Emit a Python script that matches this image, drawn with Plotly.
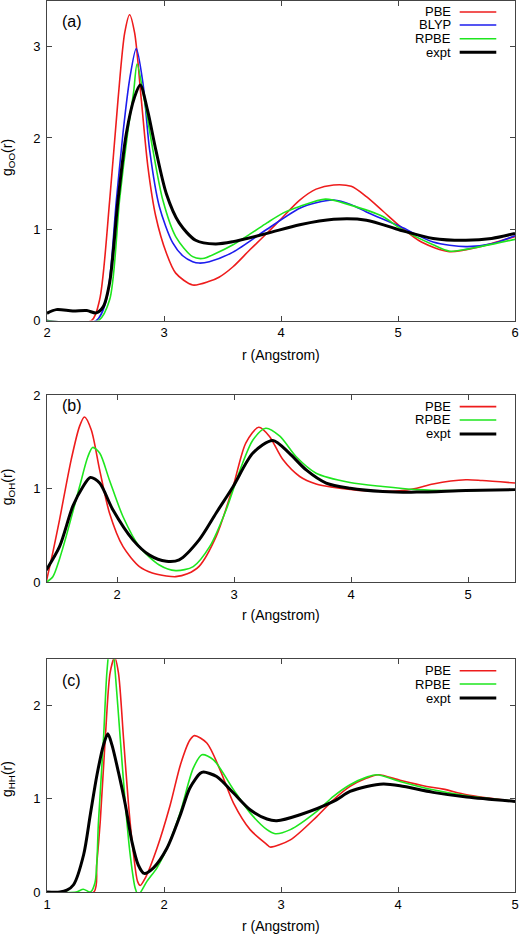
import plotly.graph_objects as go

# ---- panel (a): g_OO(r) ----
oo_pbe_r = [2.0, 2.38, 2.45, 2.536, 2.607, 2.664, 2.706, 2.749, 2.806, 2.862, 2.93, 3.02, 3.10, 3.245,
            3.387, 3.47, 3.59, 3.73, 3.88, 4.02, 4.16, 4.30, 4.45, 4.60, 4.73, 4.87, 5.02, 5.20, 5.44, 5.70, 6.0]
oo_pbe_g = [0, 0, 0.23, 1.32, 2.42, 3.15, 3.35, 3.15, 2.42, 1.69, 1.14, 0.74, 0.52, 0.39,
            0.43, 0.475, 0.59, 0.77, 0.956, 1.14, 1.32, 1.44, 1.485, 1.47, 1.357, 1.20, 1.03, 0.86, 0.755, 0.81, 0.92]

oo_blyp_r = [2.0, 2.42, 2.508, 2.593, 2.65, 2.706, 2.763, 2.82, 2.877, 2.96, 3.075, 3.16, 3.245, 3.30,
             3.387, 3.59, 3.88, 4.16, 4.30, 4.45, 4.60, 4.73, 5.02, 5.30, 5.58, 5.80, 6.0]
oo_blyp_g = [0, 0, 0.23, 1.32, 2.06, 2.64, 2.98, 2.6, 1.87, 1.25, 0.85, 0.71, 0.645, 0.63,
             0.645, 0.75, 1.0, 1.23, 1.29, 1.32, 1.27, 1.19, 1.03, 0.86, 0.81, 0.84, 0.93]

oo_rpbe_r = [2.0, 2.44, 2.536, 2.62, 2.69, 2.74, 2.77, 2.834, 2.905, 2.99, 3.10, 3.245, 3.33, 3.45,
             3.59, 3.75, 3.88, 4.02, 4.16, 4.38, 4.58, 4.87, 5.02, 5.30, 5.44, 5.58, 6.0]
oo_rpbe_g = [0, 0, 0.23, 1.32, 2.06, 2.5, 2.81, 2.4, 1.87, 1.32, 0.92, 0.70, 0.68, 0.74,
             0.83, 0.96, 1.07, 1.18, 1.25, 1.33, 1.27, 1.14, 1.01, 0.83, 0.76, 0.78, 0.89]

oo_expt_r = [2.0, 2.08, 2.22, 2.34, 2.42, 2.48, 2.536, 2.607, 2.678, 2.749, 2.797, 2.86, 2.93, 3.02,
             3.13, 3.27, 3.44, 3.59, 3.88, 4.16, 4.45, 4.73, 5.02, 5.30, 5.58, 5.80, 6.0]
oo_expt_g = [0.08, 0.12, 0.105, 0.11, 0.085, 0.15, 0.42, 1.32, 2.05, 2.45, 2.58, 2.30, 1.87, 1.39,
             1.07, 0.88, 0.84, 0.865, 0.955, 1.05, 1.11, 1.10, 0.99, 0.90, 0.88, 0.90, 0.955]

# ---- panel (b): g_OH(r) ----
oh_pbe_r = [1.393, 1.45, 1.507, 1.607, 1.678, 1.72, 1.778, 1.85, 1.934, 2.05, 2.19, 2.30, 2.42, 2.5,
            2.60, 2.70, 2.846, 2.99, 3.10, 3.21, 3.30, 3.416, 3.56, 3.70, 3.84, 4.13, 4.41, 4.56,
            4.70, 4.98, 5.12, 5.40]
oh_pbe_g = [0, 0.32, 0.667, 1.31, 1.665, 1.765, 1.63, 1.20, 0.74, 0.38, 0.168, 0.10, 0.068, 0.06,
            0.09, 0.17, 0.49, 1.02, 1.49, 1.655, 1.56, 1.31, 1.13, 1.05, 1.016, 0.977, 0.977, 1.005,
            1.05, 1.095, 1.087, 1.06]

oh_rpbe_r = [1.393, 1.45, 1.507, 1.564, 1.678, 1.749, 1.79, 1.85, 1.934, 2.05, 2.19, 2.36, 2.50,
             2.65, 2.79, 2.93, 3.05, 3.16, 3.27, 3.39, 3.53, 3.70, 3.99, 4.27, 4.56, 4.84, 5.40]
oh_rpbe_g = [0, 0.06, 0.25, 0.49, 1.02, 1.34, 1.44, 1.38, 1.09, 0.70, 0.38, 0.185, 0.125,
             0.168, 0.38, 0.77, 1.20, 1.52, 1.645, 1.56, 1.34, 1.165, 1.066, 1.023, 0.99, 0.98, 0.99]

oh_expt_r = [1.393, 1.507, 1.62, 1.707, 1.77, 1.85, 1.963, 2.134, 2.276, 2.42, 2.53, 2.70, 2.846,
             2.99, 3.16, 3.33, 3.47, 3.615, 3.786, 3.99, 4.27, 4.56, 4.98, 5.40]
oh_expt_g = [0.13, 0.38, 0.81, 1.02, 1.12, 1.06, 0.774, 0.453, 0.29, 0.225, 0.24, 0.453, 0.74,
             1.02, 1.38, 1.515, 1.38, 1.20, 1.06, 1.005, 0.97, 0.963, 0.98, 0.99]

# ---- panel (c): g_HH(r) ----
hh_pbe_r = [1.0, 1.40, 1.425, 1.455, 1.498, 1.54, 1.578, 1.61, 1.654, 1.697, 1.74, 1.774, 1.797, 1.84,
            1.94, 2.053, 2.14, 2.22, 2.26, 2.366, 2.48, 2.594, 2.736, 2.88, 2.907, 3.08, 3.306,
            3.448, 3.59, 3.733, 3.832, 4.017, 4.245, 4.387, 4.587, 5.0]
hh_pbe_g = [0, 0, 0.3, 0.757, 1.65, 2.36, 2.52, 2.36, 1.65, 0.935, 0.40, 0.114, 0.07, 0.15,
            0.47, 0.935, 1.365, 1.63, 1.68, 1.60, 1.31, 0.955, 0.67, 0.51, 0.483, 0.56, 0.81,
            0.99, 1.134, 1.224, 1.26, 1.20, 1.134, 1.105, 1.045, 0.973]

hh_rpbe_r = [1.0, 1.25, 1.31, 1.37, 1.41, 1.44, 1.483, 1.512, 1.55, 1.583, 1.626, 1.67, 1.711,
             1.754, 1.78, 1.854, 1.94, 2.025, 2.14, 2.25, 2.324, 2.423, 2.594, 2.736, 2.88, 2.95,
             3.08, 3.306, 3.448, 3.59, 3.733, 3.82, 4.017, 4.30, 4.587, 5.0]
hh_rpbe_g = [0, 0, 0.03, 0, 0.1, 0.757, 1.65, 2.36, 2.8, 2.36, 1.65, 0.935, 0.40,
             0.04, -0.03, 0.114, 0.26, 0.47, 0.86, 1.33, 1.474, 1.42, 1.10, 0.85, 0.67, 0.626,
             0.67, 0.866, 1.027, 1.152, 1.234, 1.26, 1.188, 1.098, 1.034, 0.973]

hh_expt_r = [1.0, 1.11, 1.17, 1.227, 1.313, 1.37, 1.427, 1.483, 1.52, 1.555, 1.61, 1.67, 1.726,
             1.78, 1.83, 1.91, 2.025, 2.14, 2.22, 2.31, 2.338, 2.45, 2.594, 2.736, 2.88, 2.964,
             3.163, 3.448, 3.59, 3.733, 3.875, 4.017, 4.30, 4.587, 5.0]
hh_expt_g = [0, 0, 0.02, 0.078, 0.40, 0.83, 1.257, 1.58, 1.70, 1.58, 1.29, 0.935, 0.54,
             0.29, 0.20, 0.26, 0.47, 0.83, 1.115, 1.275, 1.288, 1.24, 1.063, 0.884, 0.784, 0.766,
             0.83, 0.973, 1.08, 1.134, 1.16, 1.141, 1.07, 1.02, 0.973]

RED, BLUE, GREEN, BLACK = "#ee1c1c", "#1c1cee", "#1ee61e", "#000000"
FONT = "Liberation Sans, Arial, Helvetica, sans-serif"

panels = [
    # axis suffix, series list, x range, y range, x ticks, y ticks, y title
    ("", [("PBE", oo_pbe_r, oo_pbe_g, RED), ("BLYP", oo_blyp_r, oo_blyp_g, BLUE),
          ("RPBE", oo_rpbe_r, oo_rpbe_g, GREEN), ("expt", oo_expt_r, oo_expt_g, BLACK)],
     [2, 6], [0, 3.5], [2, 3, 4, 5, 6], [0, 1, 2, 3], "g<sub>OO</sub>(r)"),
    ("2", [("PBE", oh_pbe_r, oh_pbe_g, RED), ("RPBE", oh_rpbe_r, oh_rpbe_g, GREEN),
           ("expt", oh_expt_r, oh_expt_g, BLACK)],
     [1.4, 5.4], [0, 2], [2, 3, 4, 5], [0, 1, 2], "g<sub>OH</sub>(r)"),
    ("3", [("PBE", hh_pbe_r, hh_pbe_g, RED), ("RPBE", hh_rpbe_r, hh_rpbe_g, GREEN),
           ("expt", hh_expt_r, hh_expt_g, BLACK)],
     [1, 5], [0, 2.5], [1, 2, 3, 4, 5], [0, 1, 2], "g<sub>HH</sub>(r)"),
]

domains = [[0.6413, 1.0], [0.3476, 0.5578], [0.0, 0.2612]]
label_y = [0.9768, 0.5455, 0.2379]
xtitle_y = [0.6027, 0.3109, -0.0382]
ytitle_y = [0.824, 0.4545, 0.127]
legend_rows = [[0.9877, 0.9731, 0.9577, 0.9424], [0.5447, 0.5298, 0.5141], [0.2484, 0.2334, 0.2177]]

fig = go.Figure()
annotations = []
shapes = []

for i, (sfx, series, xr, yr, xt, yt, ytitle) in enumerate(panels):
    for name, r, g, col in series:
        fig.add_trace(go.Scatter(
            x=r, y=g, mode="lines", name=name, showlegend=False,
            line=dict(color=col, width=3 if col == BLACK else 1.6, shape="spline", smoothing=0.8),
            xaxis="x" + sfx, yaxis="y" + sfx))
    axis_common = dict(showline=True, linecolor="#444", linewidth=1, mirror="ticks",
                       ticks="inside", ticklen=5, tickcolor="#444", showgrid=False, zeroline=False,
                       automargin=False, ticklabeloverflow="allow",
                       tickfont=dict(size=13, color="black", family=FONT))
    fig.update_layout(**{
        "xaxis" + sfx: dict(range=xr, tickvals=xt, anchor="y" + sfx, ticklabelstandoff=0, **axis_common),
        "yaxis" + sfx: dict(range=yr, tickvals=yt, domain=domains[i], anchor="x" + sfx,
                            ticklabelstandoff=3, **axis_common),
    })
    annotations.append(dict(text="(" + "abc"[i] + ")", x=0.028, y=label_y[i], xref="paper", yref="paper",
                            xanchor="left", yanchor="middle", showarrow=False,
                            font=dict(size=16, family=FONT, color="black")))
    annotations.append(dict(text="r (Angstrom)", x=0.5, y=xtitle_y[i], xref="paper", yref="paper",
                            xanchor="center", yanchor="middle", showarrow=False,
                            font=dict(size=14, family=FONT, color="black")))
    annotations.append(dict(text=ytitle, x=-0.083, y=ytitle_y[i], xref="paper", yref="paper",
                            textangle=-90, xanchor="center", yanchor="middle", showarrow=False,
                            font=dict(size=14, family=FONT, color="black")))
    # gnuplot-style key: label on the left, line sample on the right
    for (name, r, g, col), ly in zip(series, legend_rows[i]):
        annotations.append(dict(text=name, x=0.8669, y=ly, xref="paper", yref="paper",
                                xanchor="right", yanchor="middle", showarrow=False,
                                font=dict(size=13, family=FONT, color="black")))
        shapes.append(dict(type="line", xref="paper", yref="paper", x0=0.8818, x1=0.96, y0=ly, y1=ly,
                           line=dict(color=col, width=3 if col == BLACK else 1.6)))

fig.update_layout(
    width=520, height=934,
    margin=dict(l=47, r=5, t=1, b=42),
    paper_bgcolor="white", plot_bgcolor="white",
    annotations=annotations, shapes=shapes,
    font=dict(family=FONT, color="black"),
)

# the page's default body margin would shift the figure by 8px
fig.write_html("out.html", config={"displayModeBar": False},
               post_script="document.body.style.margin='0';")
